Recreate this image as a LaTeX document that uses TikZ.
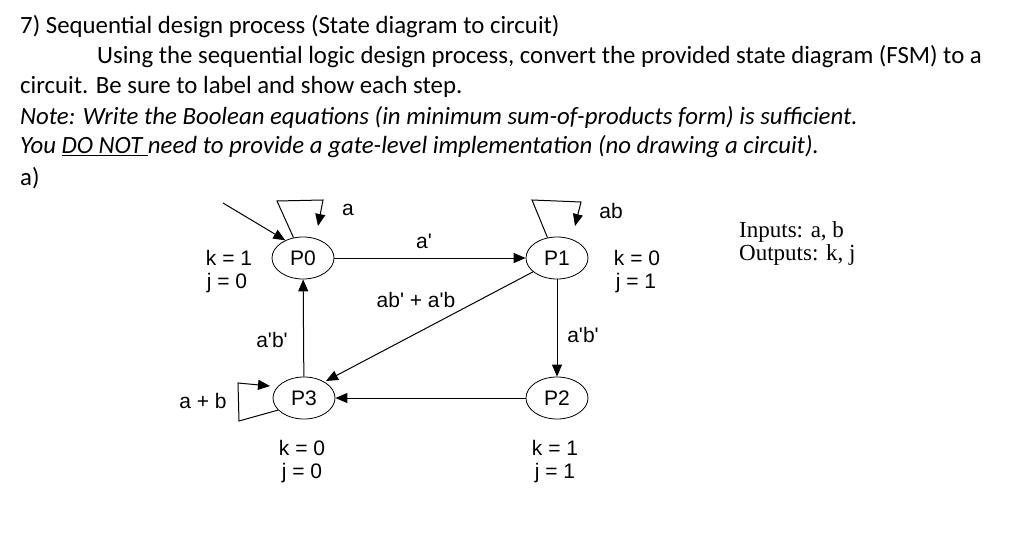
\documentclass[tikz,border=0pt]{standalone}
\usepackage{fontspec}
\setmainfont{Carlito}
\newfontfamily\arialf{Liberation Sans}
\newfontfamily\timesf{Liberation Serif}
\usetikzlibrary{arrows.meta,shapes.geometric}
\begin{document}
\begin{tikzpicture}[x=1pt,y=-1pt,
  st/.style={draw,ellipse,line width=0.8pt,minimum width=62pt,minimum height=42pt,inner sep=0pt,font=\arialf\fontsize{21}{21}\selectfont},
  lb/.style={font=\arialf\fontsize{21}{21}\selectfont,inner sep=0pt},
  tx/.style={anchor=west,inner sep=0pt,font=\fontsize{24.8}{25}\selectfont},
  ar/.style={-{Triangle[length=12pt,width=10pt]},line width=1pt}]
\useasboundingbox (0,0) rectangle (1024,537);
\node[tx] (t1) at (20,27) {7) Sequential design process (State diagram to circuit)};
\node[tx] (t2) at (97,57) {Using the sequential logic design process, convert the provided state diagram (FSM) to a};
\node[tx] (t3) at (20,87) {circuit. Be sure to label and show each step.};
\node[tx] (t4) at (20,117) {\itshape Note: Write the Boolean equations (in minimum sum-of-products form) is sufficient.};
\node[tx] (t5) at (20,147) {\itshape You \underline{DO NOT }need to provide a gate-level implementation (no drawing a circuit).};
\node[tx] (t6) at (20,178) {a)};

\node[st] (P0) at (303,258) {P0};
\node[st] (P1) at (557,258) {P1};
\node[st] (P3) at (304,398) {P3};
\node[st] (P2) at (557,398) {P2};

\coordinate (init) at (223,203);
\draw[ar] (init) -- (P0.135);
\draw[ar] (P0.115) -- (277,201) -- (323,200) -- (318,226);
\draw[ar] (P1.115) -- (532,200) -- (581,202) -- (575,226);
\draw[ar] (P3.205) -- (239,421) -- (238,383) -- (270,386);
\draw[ar] (P0) -- (P1);
\draw[ar] (P1.210) -- (326,381);
\draw[ar] (P1) -- (P2);
\draw[ar] (P2) -- (P3);
\draw[ar] (P3) -- (P0);

\node[lb] (la) at (348,210) {a};
\node[lb] (lab) at (611,211) {ab};
\node[lb] (lap) at (424,241) {a'};
\node[lb] (ldi) at (416,300) {ab' + a'b};
\node[lb] (l30) at (272,340) {a'b'};
\node[lb] (l12) at (583,335) {a'b'};
\node[lb] (l33) at (203,401) {a + b};
\node[lb] (o0a) at (229,258) {k = 1};
\node[lb] (o0b) at (227,283) {j = 0};
\node[lb] (o1a) at (637,258) {k = 0};
\node[lb] (o1b) at (636,283) {j = 1};
\node[lb] (o3a) at (302,448) {k = 0};
\node[lb] (o3b) at (302,473) {j = 0};
\node[lb] (o2a) at (555,448) {k = 1};
\node[lb] (o2b) at (555,473) {j = 1};
\node[anchor=west,inner sep=0pt,font=\timesf\fontsize{23}{23}\selectfont] (in) at (739,232) {Inputs: a, b};
\node[anchor=west,inner sep=0pt,font=\timesf\fontsize{23}{23}\selectfont] (out) at (739,255) {Outputs: k, j};
\end{tikzpicture}
\end{document}
